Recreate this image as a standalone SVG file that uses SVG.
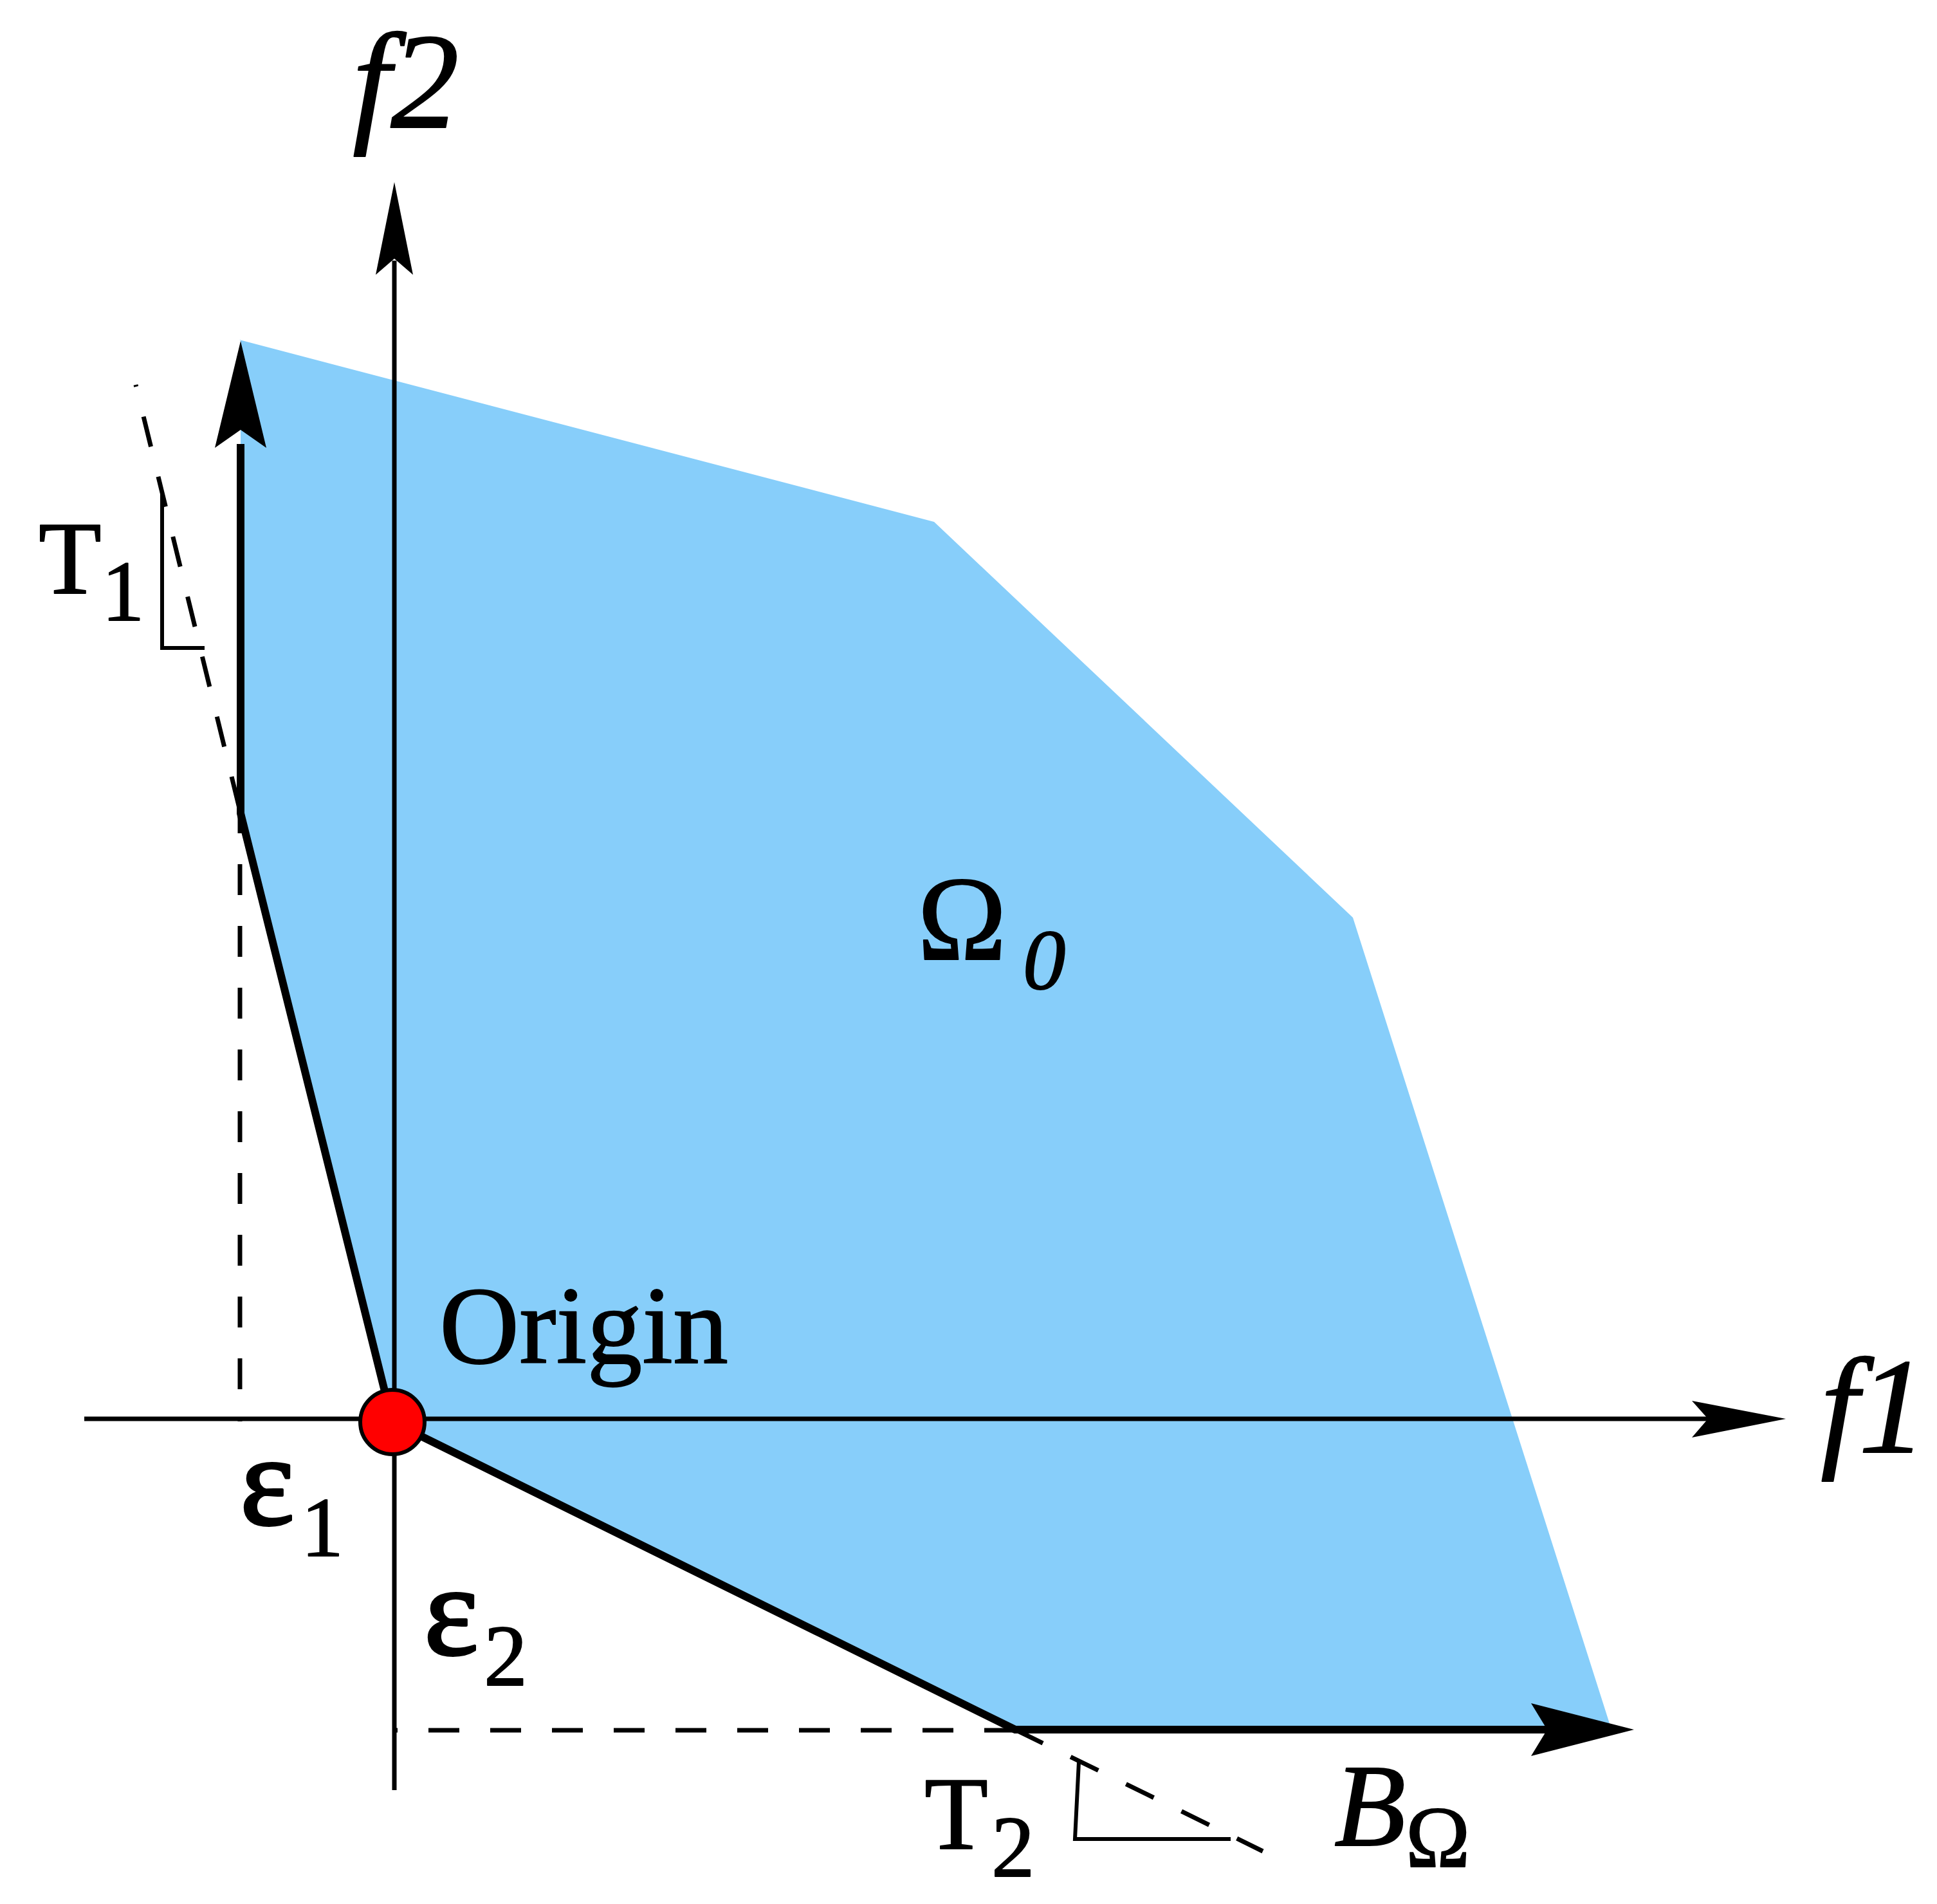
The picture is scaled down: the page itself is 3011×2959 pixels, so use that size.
<svg xmlns="http://www.w3.org/2000/svg" width="3011" height="2959" viewBox="0 0 3011 2959">
<style>
.lbl{font-family:"Liberation Serif","Times New Roman",serif;fill:#000;stroke:#000;stroke-width:1.8;stroke-linejoin:round}
.it{font-style:italic}
.up{font-style:normal}
.eps{stroke-width:4}
.axis{stroke:#000;stroke-width:7;fill:none}
.thick{stroke:#000;stroke-width:12;fill:none;stroke-linejoin:miter}
.dash{stroke:#000;stroke-width:7;fill:none;stroke-dasharray:48 48}
.thin{stroke:#000;stroke-width:6;fill:none}
.head{fill:#000;stroke:none}
</style>
<rect width="3011" height="2959" fill="#fff"/>
<g id="region-omega0">
<polygon points="372,528 1452,811 2103,1426 2505,2688 1578,2688 610,2210 374,1264 374,528" fill="#87CEFA"/>
</g>
<g id="connectors">
<g id="axis-f2">
<line class="axis" x1="613" y1="2782" x2="613" y2="405"/>
<polygon class="head" points="613,283 642,427 613,402 584,427"/>
</g>
<g id="axis-f1">
<line class="axis" x1="131" y1="2205" x2="2660" y2="2205"/>
<polygon class="head" points="2776,2205 2630,2177 2655,2205 2630,2234"/>
</g>
<g id="dashed">
<line class="dash" x1="373" y1="1264" x2="373" y2="2209" stroke-dashoffset="17"/>
<line class="dash" x1="615" y1="2689" x2="1578" y2="2689" stroke-dashoffset="45"/>
<line class="dash" x1="211" y1="598" x2="374" y2="1264" stroke-dashoffset="45"/>
<line class="dash" x1="1578" y1="2688" x2="1963" y2="2877"/>
</g>
<g id="brackets">
<polyline class="thin" points="252,765 252,1007 318,1007"/>
<polyline class="thin" points="1677,2738 1671,2858 1913,2858"/>
</g>
<g id="boundary">
<polyline class="thick" points="374,690 374,1264 610,2210 1578,2688 2410,2688"/>
<polygon class="head" points="374,530 414,696 374,668 334,696"/>
<polygon class="head" points="2540,2688 2380,2647 2405,2688 2380,2729"/>
</g>
</g>
<g id="origin-point">
<circle cx="610" cy="2210" r="50" fill="#FF0000" stroke="#000" stroke-width="6"/>
</g>
<g id="labels">
<text id="label-f2" class="lbl it" x="548" y="198" font-size="213">f2</text>
<text id="label-f1" class="lbl it" x="2830" y="2257" font-size="212">f1</text>
<text id="label-T1" class="lbl" x="60" y="922" font-size="160">T<tspan x="158" y="964" font-size="133">1</tspan></text>
<text id="label-T2" class="lbl" x="1437" y="2873" font-size="162">T<tspan x="1541" y="2916" font-size="135">2</tspan></text>
<text id="label-eps1" class="lbl" x="373" y="2369" font-size="202"><tspan class="eps">ε</tspan><tspan x="468" y="2418" font-size="132">1</tspan></text>
<text id="label-eps2" class="lbl" x="659" y="2571" font-size="202"><tspan class="eps">ε</tspan><tspan x="752" y="2619" font-size="136">2</tspan></text>
<text id="label-origin" class="lbl" x="683" y="2118" font-size="172">Origin</text>
<text id="label-omega0" class="lbl" x="1426" y="1491" font-size="187">Ω<tspan class="it" x="1590" y="1537" font-size="133">0</tspan></text>
<text id="label-bomega" class="lbl it" x="2074" y="2868" font-size="182">B<tspan class="up" x="2185" y="2901" font-size="135">Ω</tspan></text>
</g>
</svg>
